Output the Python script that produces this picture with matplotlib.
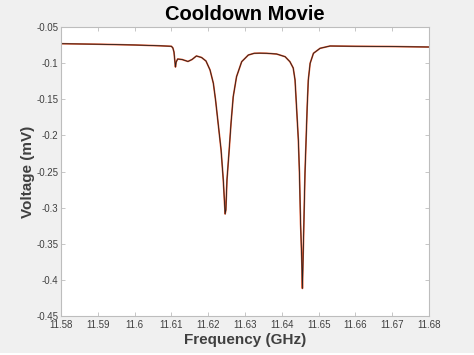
import matplotlib
matplotlib.use("Agg")
import matplotlib.pyplot as plt
from matplotlib.patches import Rectangle

plt.rcParams['font.family'] = ['Liberation Sans', 'DejaVu Sans']

freq = [11.5800, 11.5906, 11.6001, 11.6069, 11.6100, 11.6104, 11.6107, 11.6111,
        11.6113, 11.6117, 11.6129, 11.6145, 11.6156, 11.6168, 11.6182, 11.6194,
        11.6205, 11.6214, 11.6220, 11.6227, 11.6235, 11.6241, 11.6246, 11.6248,
        11.6251, 11.6257, 11.6262, 11.6268, 11.6277, 11.6291, 11.6309, 11.6325,
        11.6340, 11.6359, 11.6386, 11.6409, 11.6422, 11.6431, 11.6436, 11.6440,
        11.6445, 11.6448, 11.6451, 11.6454, 11.6456, 11.6458, 11.6460, 11.6463,
        11.6466, 11.6469, 11.6472, 11.6477, 11.6486, 11.6504, 11.6531, 11.6599,
        11.6694, 11.6800]
voltage = [-0.0731, -0.0739, -0.0749, -0.0760, -0.0767, -0.0790, -0.0846, -0.1054,
           -0.0984, -0.0943, -0.0950, -0.0977, -0.0950, -0.0901, -0.0922, -0.0971,
           -0.1095, -0.1279, -0.1510, -0.1833, -0.2202, -0.2618, -0.3088, -0.3033,
           -0.2618, -0.2202, -0.1833, -0.1465, -0.1188, -0.0980, -0.0888, -0.0864,
           -0.0862, -0.0864, -0.0874, -0.0911, -0.0980, -0.1067, -0.1234, -0.1603,
           -0.2064, -0.2525, -0.3217, -0.3679, -0.4119, -0.3679, -0.3217, -0.2525,
           -0.2064, -0.1603, -0.1234, -0.1002, -0.0864, -0.0795, -0.0763, -0.0767,
           -0.0770, -0.0777]

xticks = [11.58, 11.59, 11.6, 11.61, 11.62, 11.63, 11.64, 11.65, 11.66, 11.67, 11.68]
xticklabels = ['11.58', '11.59', '11.6', '11.61', '11.62', '11.63', '11.64', '11.65',
               '11.66', '11.67', '11.68']
yticks = [-0.45, -0.4, -0.35, -0.3, -0.25, -0.2, -0.15, -0.1, -0.05]
yticklabels = ['-0.45', '-0.4', '-0.35', '-0.3', '-0.25', '-0.2', '-0.15', '-0.1', '-0.05']

fig = plt.figure(figsize=(4.74, 3.55), dpi=100, facecolor='#f0f0f0')
fig.patches.append(Rectangle((0, 0), 1, 2.5 / 355, transform=fig.transFigure,
                             facecolor='white', edgecolor='none', zorder=-1))
ax = fig.add_axes([61 / 474, 1 - 316 / 355, (429 - 61) / 474, (316 - 27) / 355])
ax.set_facecolor('white')

ax.plot(freq, voltage, color='#e8552a', lw=1.2, solid_joinstyle='round')
ax.plot(freq, voltage, color='#222222', lw=0.6, solid_joinstyle='round')

ax.set_xlim(11.58, 11.68)
ax.set_ylim(-0.45, -0.05)
ax.set_xticks(xticks)
ax.set_xticklabels(xticklabels)
ax.set_yticks(yticks)
ax.set_yticklabels(yticklabels)

for s in ax.spines.values():
    s.set_color('#bdbdbd')
    s.set_linewidth(0.8)
ax.tick_params(direction='in', length=3, width=0.6, color='#bdbdbd',
               labelsize=7, labelcolor='#404040', top=True, right=True, pad=2)
ax.tick_params(axis='x', pad=3)

ax.set_title('Cooldown Movie', fontsize=14.5, fontweight='bold', color='black', pad=5)
ax.set_xlabel('Frequency (GHz)', fontsize=11, fontweight='bold', color='#404040', labelpad=2)
ax.set_ylabel('Voltage (mV)', fontsize=11, fontweight='bold', color='#404040', labelpad=1)

fig.savefig('out.png', dpi=100, facecolor=fig.get_facecolor())
